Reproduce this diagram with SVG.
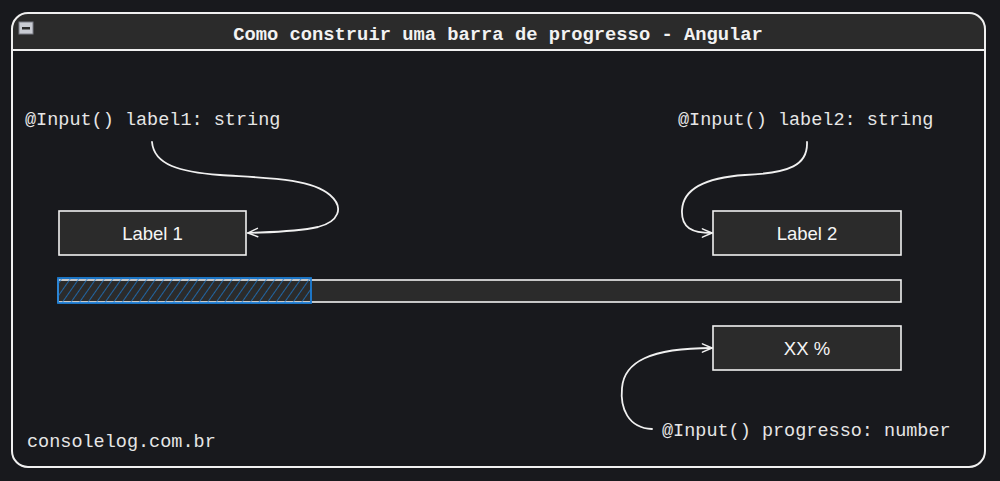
<svg xmlns="http://www.w3.org/2000/svg" width="1000" height="481" viewBox="0 0 1000 481">
  <defs>
    <style>
      .mono { font-family: "Liberation Mono", "Courier New", monospace; font-size: 18.5px; fill: #e6e6e6; }
      .title { font-family: "Liberation Mono", "Courier New", monospace; font-size: 18.8px; font-weight: bold; fill: #f2f2f2; }
      .box { fill: #2b2b2b; stroke: #f0f0f0; stroke-width: 1.6; }
      .lbl { font-family: "Liberation Sans", Arial, sans-serif; font-size: 18.5px; fill: #f5f5f5; text-anchor: middle; }
      .conn { fill: none; stroke: #f0f0f0; stroke-width: 1.8; stroke-linecap: round; }
    </style>
    <marker id="arr" viewBox="0 0 20 20" refX="18" refY="10" markerWidth="12" markerHeight="12" markerUnits="userSpaceOnUse" orient="auto">
      <path d="M2,3 L18,10 L2,17" fill="none" stroke="#f0f0f0" stroke-width="2.4" stroke-linejoin="round" stroke-linecap="round"/>
    </marker>
    <pattern id="hatch" width="7" height="8" patternUnits="userSpaceOnUse" patternTransform="rotate(35)">
      <line x1="0" y1="0" x2="0" y2="8" stroke="#1c7ed6" stroke-width="1.4"/>
    </pattern>
  </defs>
  <rect width="1000" height="481" fill="#18191d"/>

  <g id="frame">
    <path d="M12,50 L12,29 Q12,13 28,13 L969,13 Q985,13 985,29 L985,50 Z" fill="#2b2b2b"/>
    <rect x="12" y="13" width="973" height="454" rx="16" fill="none" stroke="#f0f0f0" stroke-width="2"/>
    <line x1="12" y1="50" x2="985" y2="50" stroke="#f0f0f0" stroke-width="2"/>
    <rect x="19" y="22" width="14" height="12" fill="#c9ccd3" stroke="#7a7d85" stroke-width="1"/>
    <rect x="22" y="27" width="8" height="2.5" fill="#2b2b2b"/>
    <text class="title" x="498" y="40" text-anchor="middle">Como construir uma barra de progresso - Angular</text>
  </g>

  <g id="input-label1">
    <text class="mono" x="25" y="125">@Input() label1: string</text>
  </g>
  <g id="input-label2">
    <text class="mono" x="678" y="125">@Input() label2: string</text>
  </g>
  <g id="input-progresso">
    <text class="mono" x="662" y="436">@Input() progresso: number</text>
  </g>
  <g id="footer">
    <text class="mono" x="27" y="447">consolelog.com.br</text>
  </g>

  <g id="label1">
    <rect class="box" x="59" y="211" width="187" height="44"/>
    <text class="lbl" x="152.5" y="240">Label 1</text>
  </g>
  <g id="label2">
    <rect class="box" x="713" y="211" width="188" height="44"/>
    <text class="lbl" x="807" y="240">Label 2</text>
  </g>
  <g id="percent">
    <rect class="box" x="713" y="326" width="188" height="44"/>
    <text class="lbl" x="807" y="355">XX %</text>
  </g>

  <g id="progress-bar">
    <rect class="box" x="58" y="280" width="843" height="22"/>
    <rect x="58" y="278" width="253" height="25" fill="url(#hatch)" stroke="#1c7ed6" stroke-width="1.8"/>
  </g>

  <g id="connectors">
    <path class="conn" marker-end="url(#arr)" d="M152,142 C154,165 180,172 220,175 C265,178 310,178 330,195 C345,208 338,222 318,227 C295,232 270,232 248,233"/>
    <path class="conn" marker-end="url(#arr)" d="M807,142 C808,165 790,173 745,175 C700,178 683,192 682,210 C681,228 692,233 712,233"/>
    <path class="conn" marker-end="url(#arr)" d="M652,429 C628,428 620,408 622,388 C624,362 650,348 712,348"/>
  </g>
</svg>
